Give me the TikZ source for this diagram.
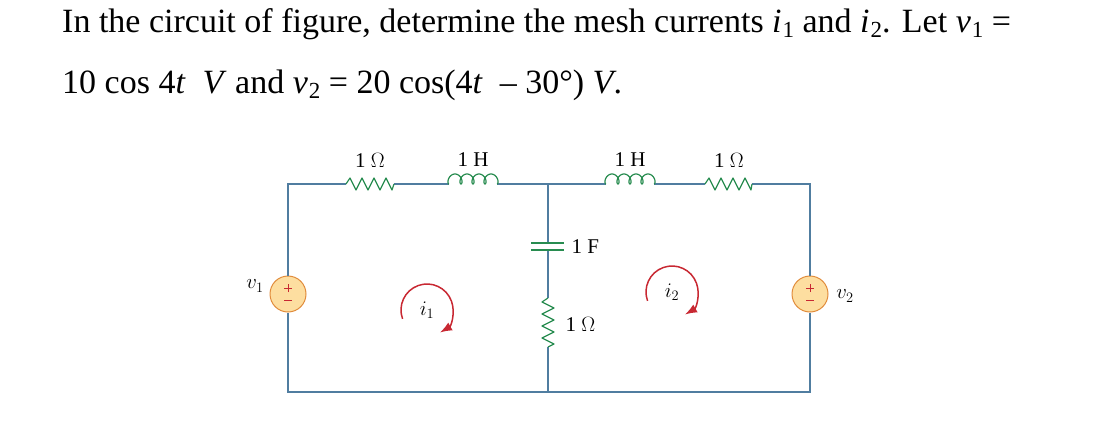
\documentclass[tikz,border=0pt]{standalone}
\usepackage{fontspec}
\setmainfont{Liberation Serif}
\usetikzlibrary{arrows.meta}
\definecolor{wire}{RGB}{80,125,160}
\definecolor{comp}{RGB}{40,140,80}
\definecolor{srcfill}{RGB}{253,222,160}
\definecolor{srcedge}{RGB}{225,140,60}
\definecolor{curr}{RGB}{200,40,50}
\newcommand{\tsub}[2]{\textit{#1}\kern1pt\raisebox{-0.35ex}{\fontsize{23}{23}\selectfont #2}}
\tikzset{
  wireline/.style={draw=wire,line width=1.2pt},
  compline/.style={draw=comp,line width=1.2pt,line join=round},
  srcnode/.style={circle,draw=srcedge,fill=srcfill,line width=1pt,minimum size=36pt,inner sep=0pt},
  lbl/.style={font=\fontsize{21}{21}\selectfont},
  meshline/.style={draw=curr,line width=1.5pt,-{Latex[length=12pt,width=9pt]}},
  ttl/.style={font=\fontsize{34}{34}\selectfont,anchor=base west,inner sep=0pt}
}
\begin{document}
\begin{tikzpicture}[x=1pt,y=1pt]
\useasboundingbox (0,0) rectangle (1111,-421);
\node[ttl] (t1) at (62,-32) {In the circuit of figure, determine the mesh currents \tsub{i}{1} and \tsub{i}{2}. Let \tsub{v}{1} =};
\node[ttl] (t2) at (62,-93) {10 cos 4\textit{t}\ \ \textit{V} and \tsub{v}{2} = 20 cos(4\textit{t}\ \ -- 30°) \textit{V}.};
\coordinate (TL) at (288,-184); \coordinate (TM) at (548,-184); \coordinate (TR) at (810,-184);
\coordinate (BL) at (288,-392); \coordinate (BM) at (548,-392); \coordinate (BR) at (810,-392);
\node[srcnode] (s1) at (288,-294) {};
\node[srcnode] (s2) at (810,-294) {};
\foreach \s in {s1,s2}{
  \draw[curr,line width=1pt] ([yshift=6pt]\s.center) ++(-4,0) -- ++(8,0) ++(-4,-4) -- ++(0,8);
  \draw[curr,line width=1pt] ([yshift=-6pt]\s.center) ++(-4,0) -- ++(8,0);
}
\draw[wireline] (s1.north) -- (TL) -- (346,-184);
\draw[wireline] (394,-184) -- (449,-184);
\draw[wireline] (497,-184) -- (606,-184);
\draw[wireline] (654,-184) -- (705,-184);
\draw[wireline] (752,-184) -- (TR) -- (s2.north);
\draw[wireline] (s2.south) -- (BR) -- (BL) -- (s1.south);
\draw[wireline] (TM) -- (548,-243);
\draw[wireline] (548,-250) -- (548,-298);
\draw[wireline] (548,-347) -- (BM);
\draw[compline] (346,-184) -- ++(4,6) -- ++(6,-12) -- ++(6,12) -- ++(6,-12) -- ++(6,12) -- ++(6,-12) -- ++(6,12) -- ++(6,-12) -- ++(2,6);
\draw[compline] (705,-184) -- ++(4,6) -- ++(6,-12) -- ++(6,12) -- ++(6,-12) -- ++(6,12) -- ++(6,-12) -- ++(6,12) -- ++(6,-12) -- ++(1,6);
\draw[compline] (548,-298) -- ++(-6,-4) -- ++(12,-6) -- ++(-12,-6) -- ++(12,-6) -- ++(-12,-6) -- ++(12,-6) -- ++(-12,-6) -- ++(12,-6) -- ++(-6,-3);
\draw[compline,smooth,samples=160,domain=0:1440,variable=\t] plot ({449+\t/30-3.5*sin(\t)},{-184+5*(1-cos(\t))});
\draw[compline,smooth,samples=160,domain=0:1440,variable=\t] plot ({606+\t/30-3.5*sin(\t)},{-184+5*(1-cos(\t))});
\draw[compline] (531,-243) -- (564,-243);
\draw[compline] (531,-250) -- (564,-250);
\node[lbl] (l1) at (370,-160) {1 $\Omega$};
\node[lbl] (l2) at (473,-160) {1 H};
\node[lbl] (l3) at (630,-160) {1 H};
\node[lbl] (l4) at (729,-160) {1 $\Omega$};
\node[lbl,anchor=west] (l5) at (568,-247) {1 F};
\node[lbl,anchor=west] (l6) at (562,-324) {1 $\Omega$};
\node[lbl] (v1) at (255,-286) {$v_1$};
\node[lbl] (v2) at (845,-296) {$v_2$};
\node[lbl] (i1) at (427,-310) {$i_1$};
\node[lbl] (i2) at (672,-292) {$i_2$};
\draw[meshline] (i1.center) ++(200:26) arc (200:-60:26);
\draw[meshline] (i2.center) ++(200:26) arc (200:-60:26);
\end{tikzpicture}
\end{document}
